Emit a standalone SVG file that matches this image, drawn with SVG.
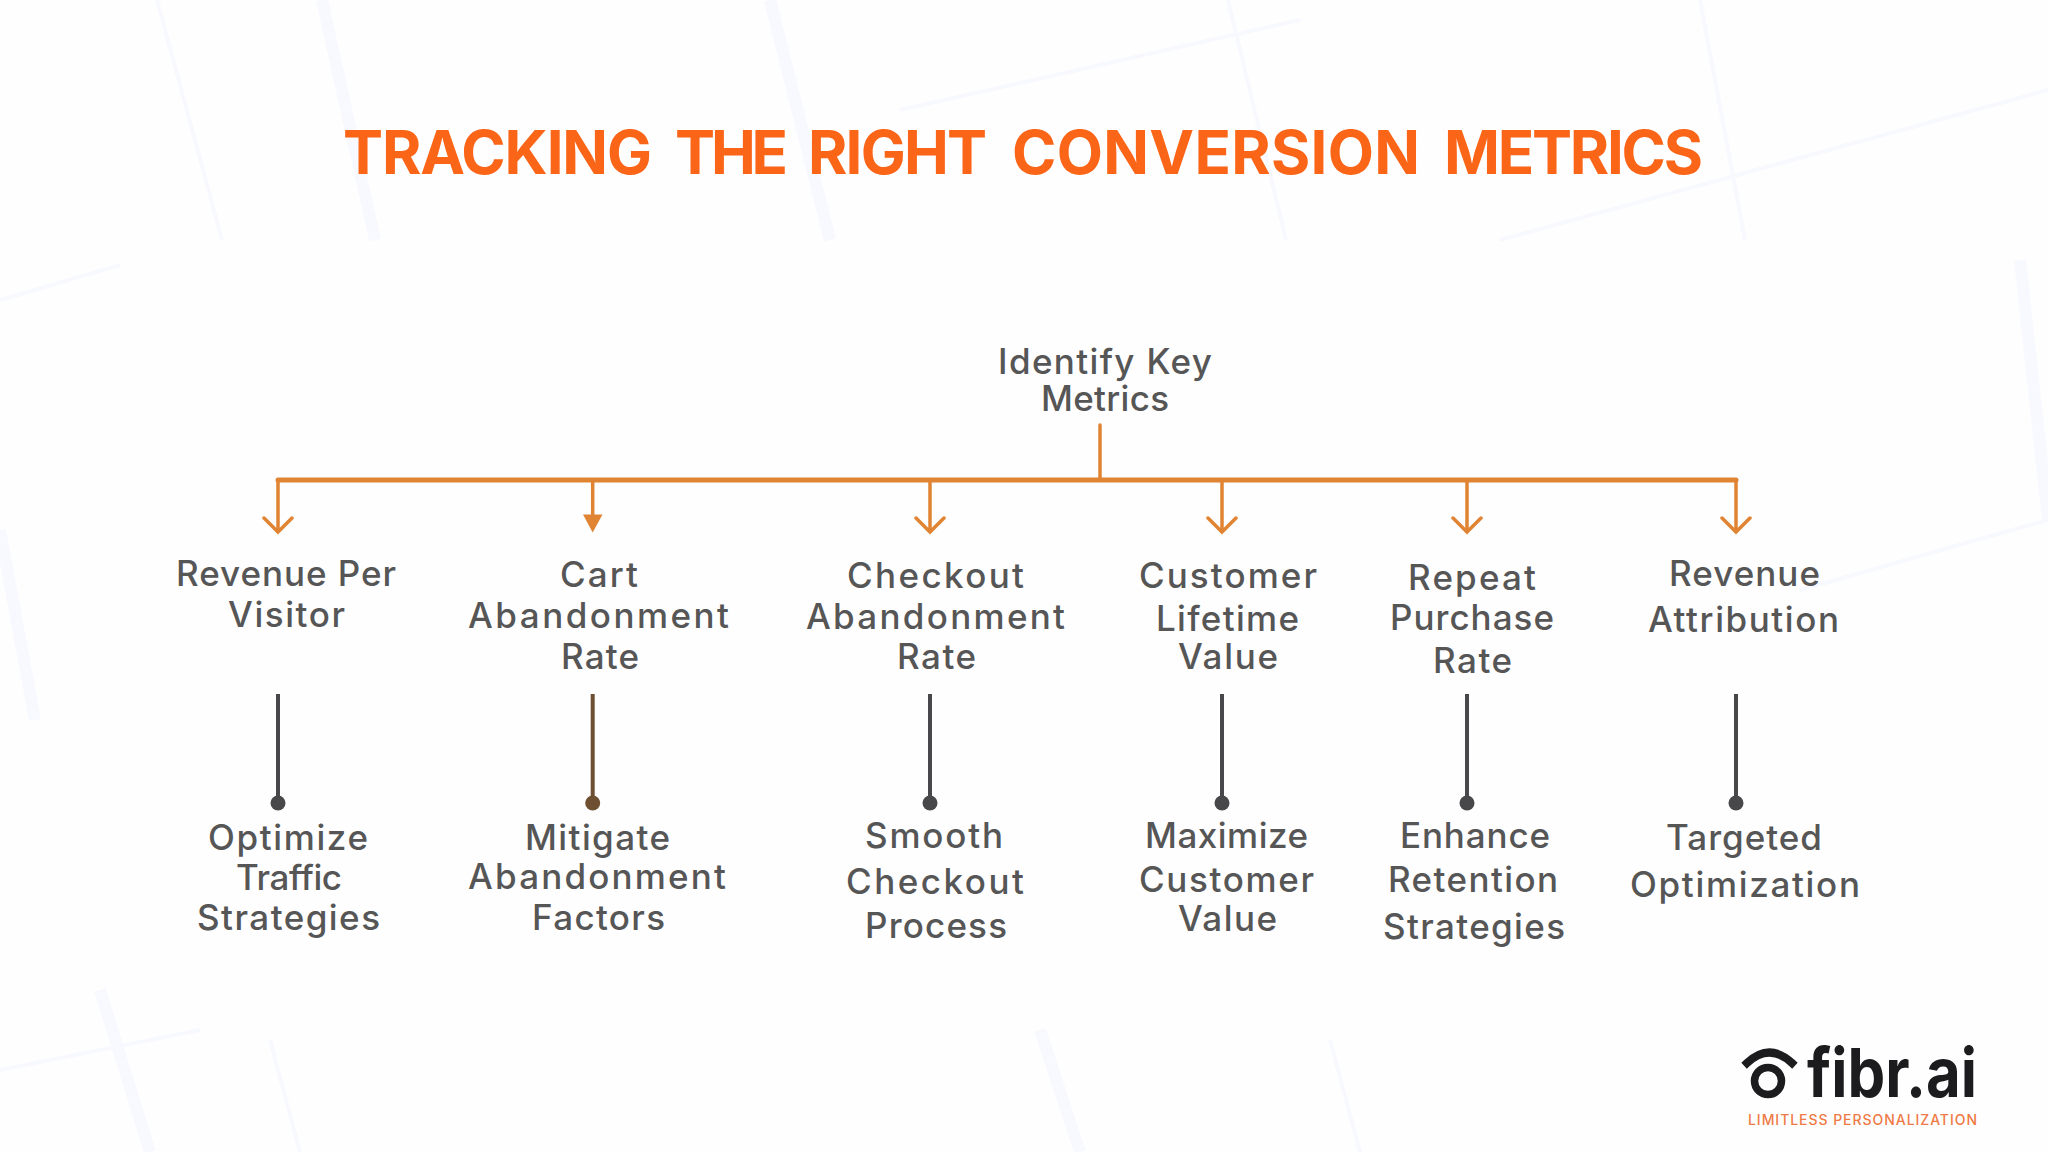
<svg xmlns="http://www.w3.org/2000/svg" width="2048" height="1152" viewBox="0 0 2048 1152">
<defs>
<style>
.t{font-family:"Inter","Noto Sans",sans-serif;font-size:35px;fill:#565656;font-weight:500}
.title{font-family:"Inter","Liberation Sans",sans-serif;font-size:60px;font-weight:700;fill:#fb6517}
.bg{stroke:#f7f9fe;fill:none}
.o{stroke:#e08434;stroke-width:3.500;fill:none;stroke-linecap:round;stroke-linejoin:miter}
.d{stroke:#48484b;stroke-width:4;fill:none}
.b{stroke:#6e4f32;stroke-width:4;fill:none}
</style>
</defs>
<rect width="2048" height="1152" fill="#fefeff"/>
<g id="background">
<path class="bg" stroke-width="12" d="M322 0L375 240M770 0L830 240M0 530L35 720M2020 260L2048 520M1040 1030L1080 1152M100 990L150 1152"/>
<path class="bg" stroke-width="4" d="M157 0L222 240M1228 0L1286 240M1700 0L1745 240M0 300L120 265M900 110L1300 20M1500 240L2048 90M0 1070L200 1030M1800 590L2048 520M270 1040L300 1152M1330 1040L1360 1152"/>
</g>
<g id="connectors">
<path class="o" d="M1100 425V480M278 530V480M592.700 480V520M930 480V530M1222 480V530M1467 480V530M1736 480V530"/>
<path class="o" style="stroke-width:5" d="M278 480H1736"/>
<path class="o" d="M264 518L278 532L292 518M916 518L930 532L944 518M1208 518L1222 532L1236 518M1453 518L1467 532L1481 518M1722 518L1736 532L1750 518"/>
<path fill="#e08434" d="M583 514.500H602.500L592.700 532.500Z"/>
<path class="d" d="M278 694V803M930 694V803M1222 694V803M1467 694V803M1736 694V803"/>
<path class="b" d="M592.700 694V803"/>
<g fill="#48484b"><circle cx="278" cy="803" r="7.500"/><circle cx="930" cy="803" r="7.500"/><circle cx="1222" cy="803" r="7.500"/><circle cx="1467" cy="803" r="7.500"/><circle cx="1736" cy="803" r="7.500"/></g>
<circle cx="592.700" cy="803" r="7.500" fill="#6e4f32"/>
</g>
<g id="title"><text class="title" y="174"><tspan x="343" textLength="309">TRACKING</tspan> <tspan x="675" textLength="113">THE</tspan> <tspan x="808" textLength="179">RIGHT</tspan> <tspan x="1012" textLength="408">CONVERSION</tspan> <tspan x="1444" textLength="259">METRICS</tspan></text></g>
<g id="labels" transform="translate(0,1)">
<g id="root"><text class="t" x="998" y="373" textLength="214">Identify Key</text><text class="t" x="1041" y="410" textLength="128">Metrics</text></g>
<g id="m1"><text class="t" x="176" y="585" textLength="220">Revenue Per</text><text class="t" x="228" y="626" textLength="117">Visitor</text></g>
<g id="m2"><text class="t" x="560" y="586" textLength="78">Cart</text><text class="t" x="468" y="627" textLength="261">Abandonment</text><text class="t" x="561" y="668" textLength="78">Rate</text></g>
<g id="m3"><text class="t" x="847" y="587" textLength="177">Checkout</text><text class="t" x="806" y="628" textLength="259">Abandonment</text><text class="t" x="897" y="668" textLength="79">Rate</text></g>
<g id="m4"><text class="t" x="1139" y="587" textLength="178">Customer</text><text class="t" x="1156" y="630" textLength="143">Lifetime</text><text class="t" x="1178" y="668" textLength="100">Value</text></g>
<g id="m5"><text class="t" x="1408" y="589" textLength="128">Repeat</text><text class="t" x="1390" y="629" textLength="164">Purchase</text><text class="t" x="1433" y="672" textLength="79">Rate</text></g>
<g id="m6"><text class="t" x="1669" y="585" textLength="151">Revenue</text><text class="t" x="1648" y="631" textLength="191">Attribution</text></g>
<g id="a1"><text class="t" x="208" y="849" textLength="160">Optimize</text><text class="t" x="236" y="889" textLength="106">Traffic</text><text class="t" x="197" y="929" textLength="183">Strategies</text></g>
<g id="a2"><text class="t" x="525" y="849" textLength="145">Mitigate</text><text class="t" x="468" y="888" textLength="258">Abandonment</text><text class="t" x="532" y="929" textLength="133">Factors</text></g>
<g id="a3"><text class="t" x="865" y="847" textLength="138">Smooth</text><text class="t" x="846" y="893" textLength="178">Checkout</text><text class="t" x="865" y="937" textLength="142">Process</text></g>
<g id="a4"><text class="t" x="1145" y="847" textLength="163">Maximize</text><text class="t" x="1139" y="891" textLength="175">Customer</text><text class="t" x="1178" y="930" textLength="99">Value</text></g>
<g id="a5"><text class="t" x="1400" y="847" textLength="150">Enhance</text><text class="t" x="1388" y="891" textLength="170">Retention</text><text class="t" x="1383" y="938" textLength="182">Strategies</text></g>
<g id="a6"><text class="t" x="1666" y="849" textLength="156">Targeted</text><text class="t" x="1630" y="896" textLength="230">Optimization</text></g>
</g>
<g id="logo">
<circle cx="1768" cy="1081" r="13.500" fill="none" stroke="#1c1b1d" stroke-width="7.500"/>
<path d="M1747 1063Q1769.500 1042 1792 1063" fill="none" stroke="#1c1b1d" stroke-width="8" stroke-linecap="square"/>
<text x="1807" y="1097" textLength="170" lengthAdjust="spacingAndGlyphs" style="font-family:Inter,sans-serif;font-size:68px;font-weight:700;fill:#1c1b1d">fibr.ai</text>
<text x="1748" y="1125" textLength="229" style="font-family:Inter,sans-serif;font-size:14px;font-weight:500;fill:#ef7a45">LIMITLESS PERSONALIZATION</text>
</g>
</svg>
